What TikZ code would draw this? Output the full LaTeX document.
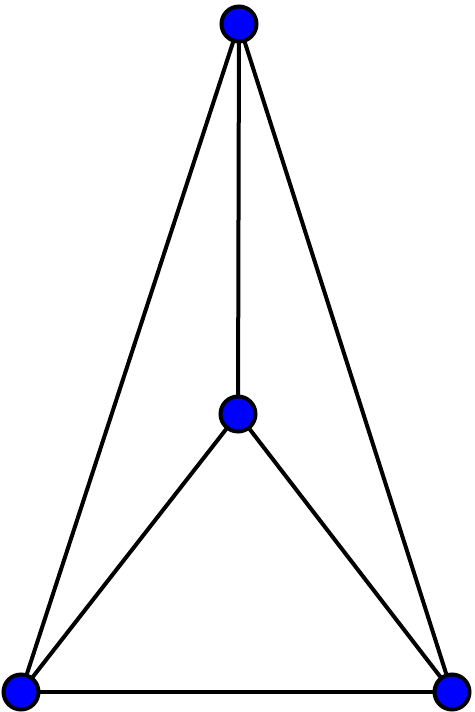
\documentclass[tikz,border=0pt]{standalone}
\usetikzlibrary{backgrounds}

\tikzstyle{vertex} = [circle, draw=black, fill=blue, line width=4pt,
    minimum size=35pt, inner sep=0pt]
\tikzstyle{edge} = [draw=black, line width=4pt]

\begin{document}
\begin{tikzpicture}[x=1pt, y=-1pt]
\useasboundingbox (0,0) rectangle (474,712);
\node [vertex] (top) at (239,24) {};
\node [vertex] (mid) at (238,414) {};
\node [vertex] (left) at (21,692) {};
\node [vertex] (right) at (452,692) {};
\begin{scope}[on background layer]
\draw [edge] (top.center) -- (mid.center);
\draw [edge] (top.center) -- (left.center);
\draw [edge] (top.center) -- (right.center);
\draw [edge] (mid.center) -- (left.center);
\draw [edge] (mid.center) -- (right.center);
\draw [edge] (left.center) -- (right.center);
\end{scope}
\end{tikzpicture}
\end{document}
